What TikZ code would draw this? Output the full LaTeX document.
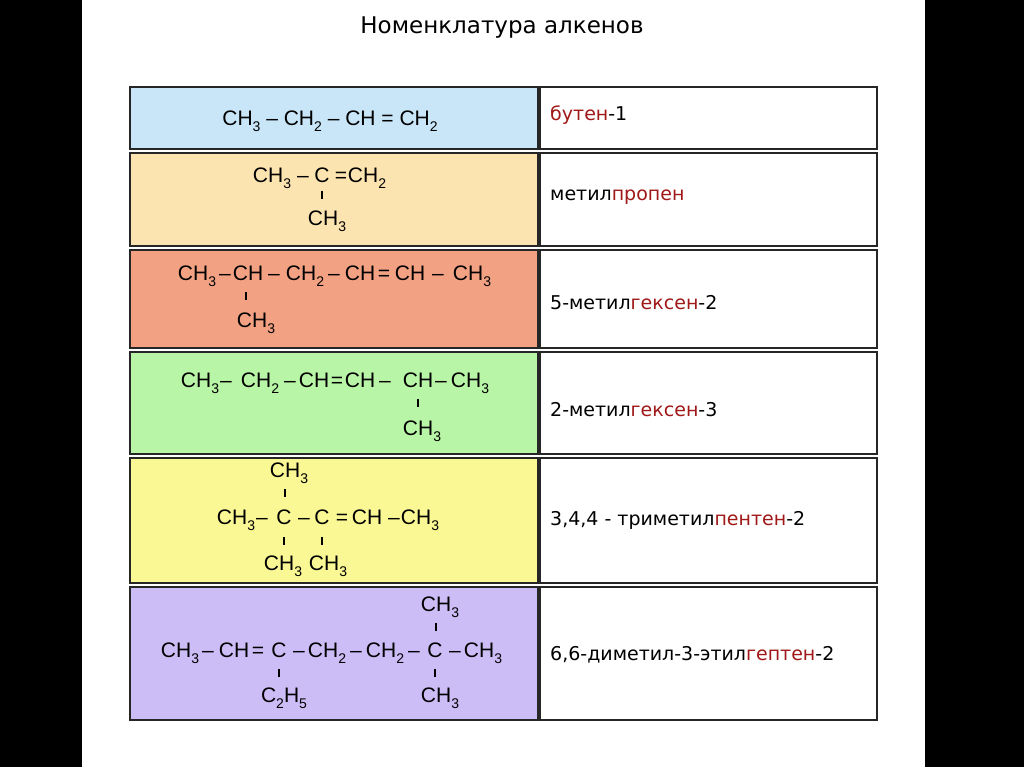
\documentclass[tikz,border=0pt]{standalone}
\usepackage{fontspec}
\setmainfont{DejaVu Sans}
\newfontfamily\ff{Liberation Sans}
\definecolor{rb}{HTML}{C8E6F8}\definecolor{rp}{HTML}{FCE4B0}\definecolor{rs}{HTML}{F2A283}
\definecolor{rg}{HTML}{B9F5A6}\definecolor{ry}{HTML}{FAF894}\definecolor{rl}{HTML}{CDBDF7}
\definecolor{dred}{HTML}{A01818}
\newcommand{\subx}[1]{\raisebox{-0.3em}{\fontsize{14}{14}\selectfont #1}}
\newcommand{\cht}{CH\subx{3}}\newcommand{\chd}{CH\subx{2}}
\newcommand{\R}[1]{\textcolor{dred}{#1}}
\begin{document}
\begin{tikzpicture}[x=1pt,y=-1pt,
 f/.style={inner sep=0pt,anchor=base,yshift=-7.5pt,font=\ff\fontsize{21}{21}\selectfont},
 nm/.style={inner sep=0pt,anchor=west,font=\fontsize{19}{19}\selectfont},
 cell/.style={draw=black!85,line width=1.3pt},
 bar/.style={line width=1.8pt}]
\useasboundingbox (0,0) rectangle (1024,767);
\fill[black] (0,0) rectangle (82,767);
\fill[black] (925,0) rectangle (1024,767);
\node[inner sep=0pt,font=\fontsize{23}{23}\selectfont] (title) at (502,28) {Номенклатура алкенов};
% cells
\foreach \a/\b/\c [count=\i] in {87/149/rb,153/246/rp,250/348/rs,352/454/rg,458/583/ry,587/720/rl}{
 \draw[cell,fill=\c] (130,\a) rectangle (538,\b);
 \draw[cell,fill=white] (540,\a) rectangle (877,\b);
}
% row1
\node[f] (r1) at (330,118) {\cht\ – \chd\ – CH = \chd};
\node[nm] (n1) at (550,115) {\R{бутен}-1};
% row2
\node[f] (a1) at (272,175) {\cht};\node[f] at (303,175) {–};\node[f] (a2) at (322,175) {C};
\node[f] at (341,175) {=};\node[f] at (367,175) {\chd};
\node[f] (a3) at (327,218) {\cht};
\draw[bar] (322,191) -- (322,199);
\node[nm] (n2) at (550,197) {метил\R{пропен}};
% row3
\foreach \x/\t in {197/\cht,225/–,248/CH,274/–,305/\chd,334/–,360/CH,384/=,410/CH,438/–,472/\cht}
 \node[f] at (\x,273) {\t};
\node[f] (b3) at (256,320) {\cht};
\draw[bar] (246,292) -- (246,300);
\node[nm] (n3) at (550,303) {5-метил\R{гексен}-2};
% row4
\foreach \x/\t in {200/\cht,226/–,260/\chd,290/–,314/CH,337/=,360/CH,385/–,418/CH,441/–,470/\cht}
 \node[f] at (\x,380) {\t};
\node[f] (c3) at (422,428) {\cht};
\draw[bar] (418,399) -- (418,407);
\node[nm] (n4) at (550,410) {2-метил\R{гексен}-3};
% row5
\node[f] at (289,470) {\cht};
\draw[bar] (285,489) -- (285,497);
\foreach \x/\t in {236/\cht,262/–,284/C,304/–,322/C,342/=,367/CH,394/–,420/\cht}
 \node[f] at (\x,517) {\t};
\draw[bar] (284,537) -- (284,545);\draw[bar] (322,537) -- (322,545);
\node[f] at (283,563) {\cht};\node[f] at (328,563) {\cht};
\node[nm] (n5) at (550,520) {3,4,4 - триметил\R{пентен}-2};
% row6
\node[f] at (440,604) {\cht};
\draw[bar] (436,623) -- (436,631);
\foreach \x/\t in {180/\cht,208/–,234/CH,258/=,279/C,299/–,327/\chd,356/–,385/\chd,414/–,435/C,455/–,483/\cht}
 \node[f] at (\x,650) {\t};
\draw[bar] (279,669) -- (279,677);\draw[bar] (435,669) -- (435,677);
\node[f] at (284,695) {C\subx{2}H\subx{5}};\node[f] at (440,695) {\cht};
\node[nm] (n6) at (550,655) {6,6-диметил-3-этил\R{гептен}-2};
\end{tikzpicture}
\end{document}
